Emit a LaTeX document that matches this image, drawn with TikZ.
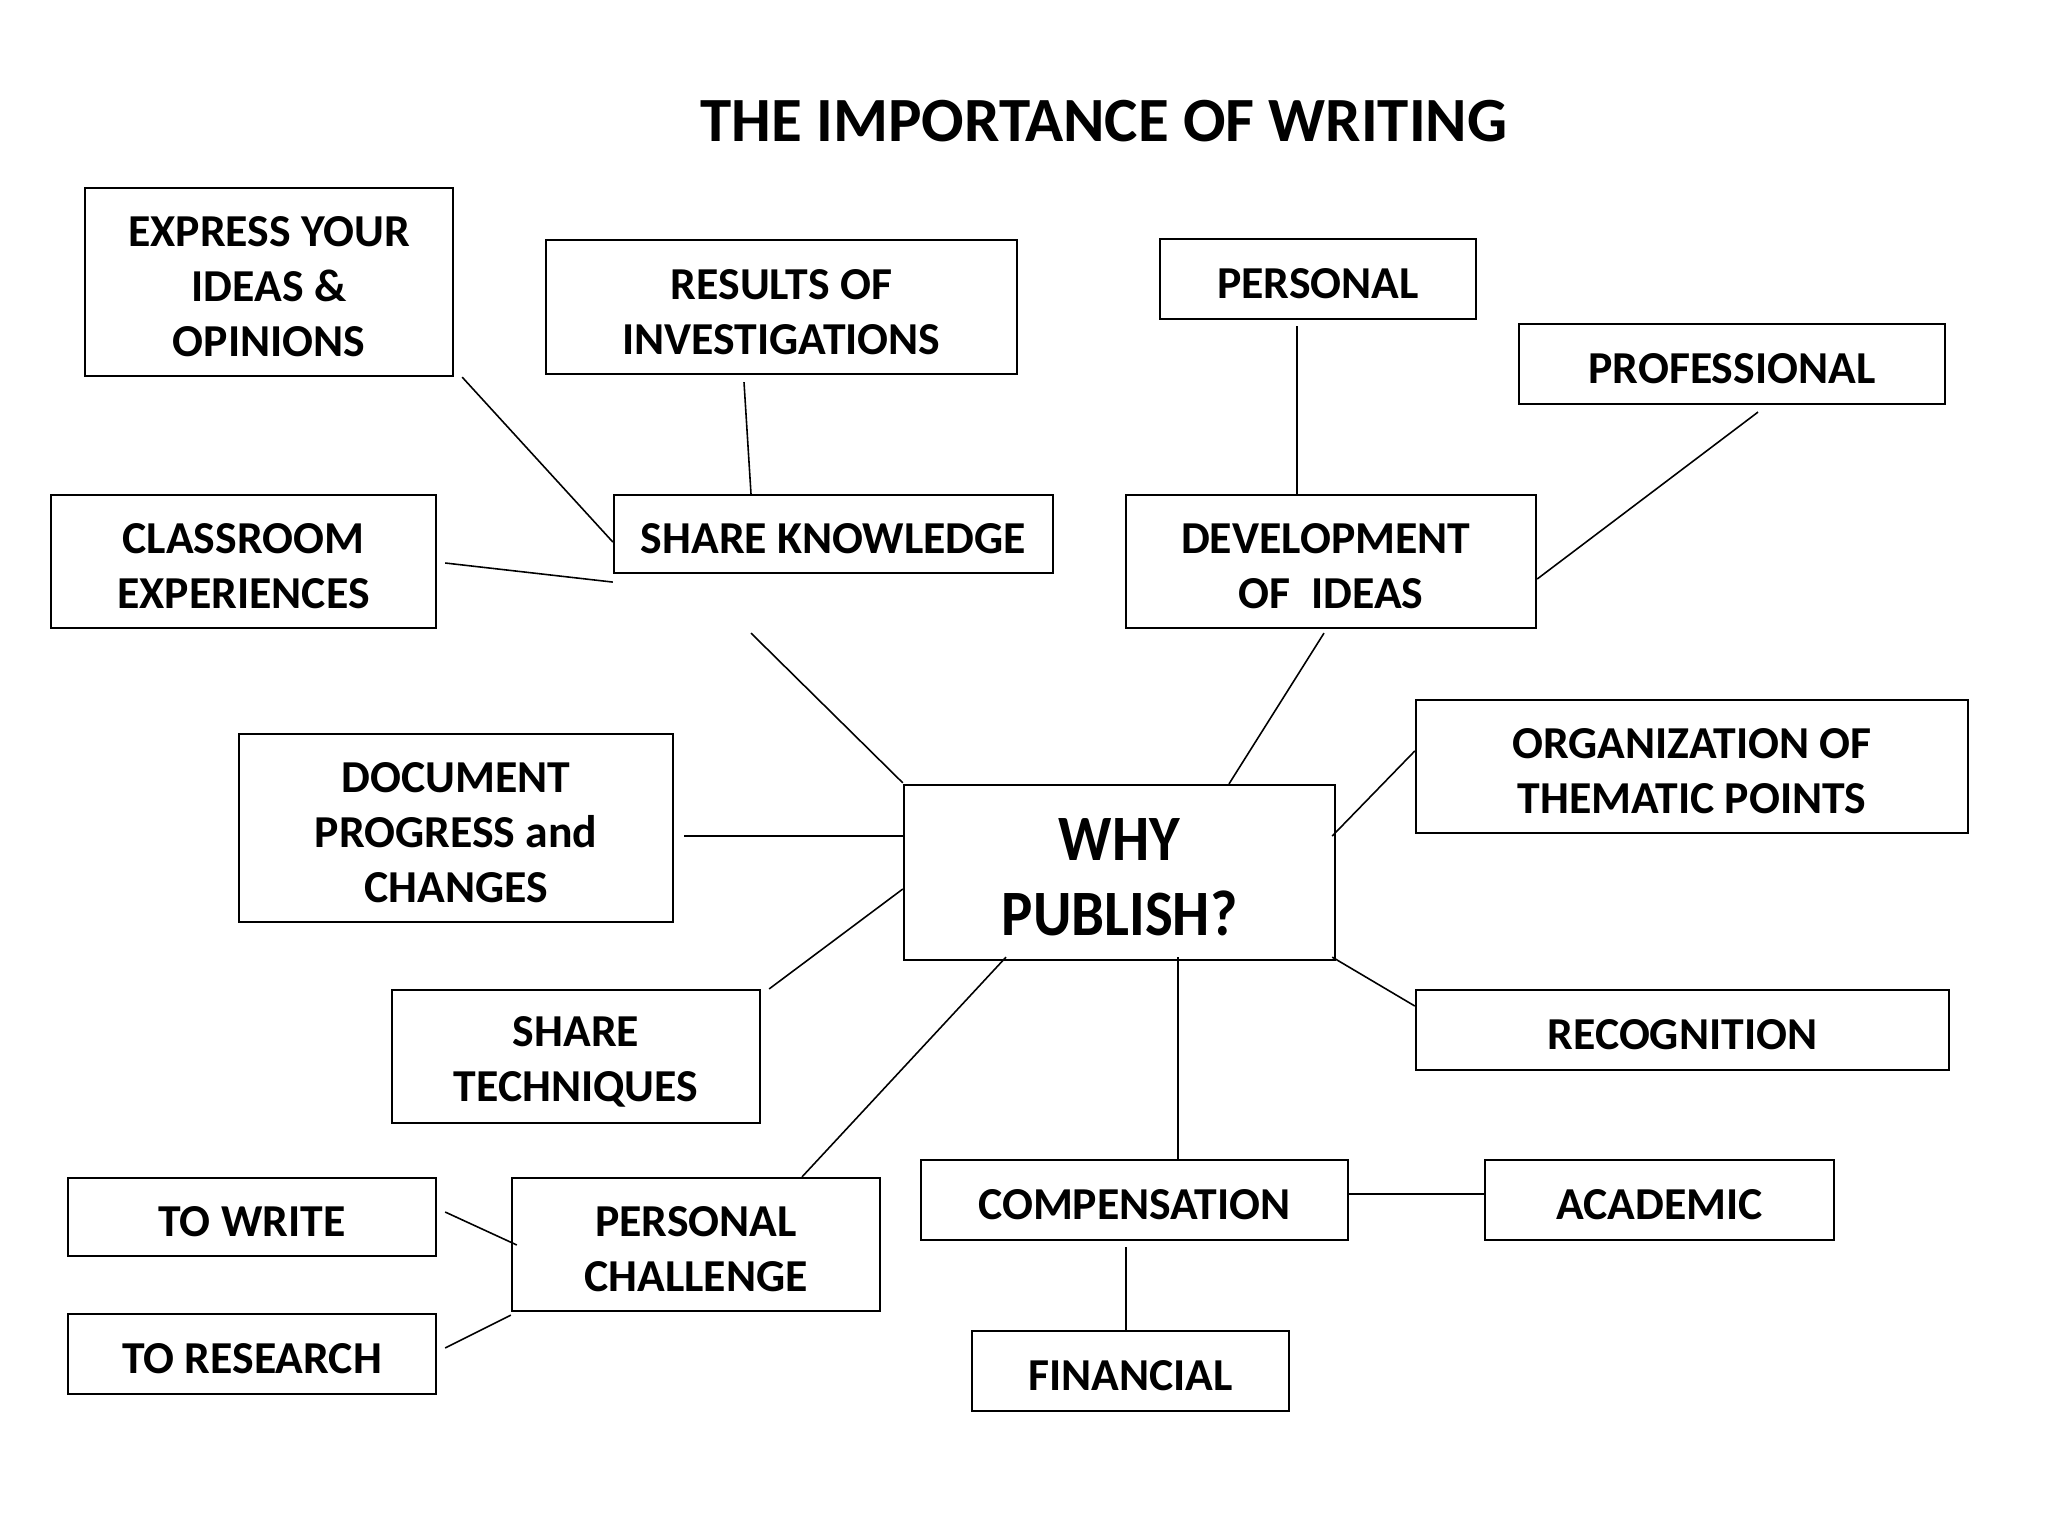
\documentclass[tikz,border=0pt]{standalone}
\usepackage{fontspec}
\setmainfont{Carlito}
\newfontfamily\whyfont{Carlito}[FakeStretch=0.91]
\begin{document}
\begin{tikzpicture}[x=0.01cm,y=0.01cm,
  box/.style={draw=black, line width=0.6pt, inner sep=0pt},
  txt/.style={inner sep=0pt, align=center,
    font=\bfseries\fontsize{13}{15.6}\selectfont},
  whytxt/.style={inner sep=0pt, align=center,
    font=\whyfont\bfseries\fontsize{18.4}{21.3}\selectfont},
  link/.style={draw=black, line width=0.45pt}]
\useasboundingbox (0,0) rectangle (2048,-1536);
\newcommand\boxnode[7][txt]{%
  \node[box, minimum width=#5cm, minimum height=#6cm] (#2) at (#3,#4) {};
  \node[#1] (#2-t) at ([shift={(0,-5)}]#2.center) {#7};}
\node[font=\bfseries\fontsize{17.9}{20}\selectfont, inner sep=0pt] (title) at (1104,-121) {THE IMPORTANCE OF WRITING};
\boxnode{express}{269}{-282}{3.68}{1.88}{EXPRESS YOUR\\IDEAS \&\\OPINIONS}
\boxnode{results}{781.5}{-307}{4.71}{1.34}{RESULTS OF\\INVESTIGATIONS}
\boxnode{personal}{1318}{-279}{3.16}{0.80}{PERSONAL}
\boxnode{professional}{1732}{-364}{4.26}{0.80}{PROFESSIONAL}
\boxnode{classroom}{243.5}{-561.5}{3.85}{1.33}{CLASSROOM\\EXPERIENCES}
\boxnode{shareknow}{833.5}{-534}{4.39}{0.78}{SHARE KNOWLEDGE}
\boxnode{development}{1331}{-561.5}{4.10}{1.33}{DEVELOPMENT\hspace*{3pt}\\OF~~IDEAS}
\boxnode{organization}{1692}{-766.5}{5.52}{1.33}{ORGANIZATION OF\\THEMATIC POINTS}
\boxnode{document}{456}{-828}{4.34}{1.88}{DOCUMENT\\PROGRESS and\\CHANGES}
\boxnode[whytxt]{why}{1119.5}{-872.5}{4.31}{1.75}{WHY\\PUBLISH?}
\boxnode{sharetech}{576}{-1056.5}{3.68}{1.33}{SHARE\\TECHNIQUES}
\boxnode{recognition}{1682.5}{-1030}{5.33}{0.80}{RECOGNITION}
\boxnode{towrite}{252}{-1217}{3.68}{0.78}{TO WRITE}
\boxnode{challenge}{696}{-1244.5}{3.68}{1.33}{PERSONAL\\CHALLENGE}
\boxnode{compensation}{1134.5}{-1200}{4.27}{0.80}{COMPENSATION}
\boxnode{academic}{1659.5}{-1200}{3.49}{0.80}{ACADEMIC}
\boxnode{toresearch}{252}{-1354}{3.68}{0.80}{TO RESEARCH}
\boxnode{financial}{1130.5}{-1371}{3.17}{0.80}{FINANCIAL}
% connectors
\draw[link] ([shift={(8,0)}]express.south east) -- ([shift={(0,-8)}]shareknow.west);
\draw[link] ([shift={(-37.5,-7)}]results.south) -- ([shift={(-82.5,0)}]shareknow.north);
\draw[link] ([shift={(8,-1.5)}]classroom.east) -- ([shift={(0,-8)}]shareknow.south west);
\draw[link] ([shift={(-21,-6)}]personal.south) -- ([shift={(-34,0)}]development.north);
\draw[link] ([shift={(26,-7)}]professional.south) -- ([shift={(0,-17.5)}]development.east);
\draw[link] ([shift={(-82.5,-59)}]shareknow.south) -- ([shift={(0,1)}]why.north west);
\draw[link] ([shift={(-7,-4)}]development.south) -- ([shift={(109.5,0)}]why.north);
\draw[link] ([shift={(0,15.5)}]organization.west) -- ([shift={(-4,36.5)}]why.east);
\draw[link] ([shift={(10,-8)}]document.east) -- ([shift={(0,36.5)}]why.west);
\draw[link] ([shift={(0,-16.5)}]why.west) -- ([shift={(8,0)}]sharetech.north east);
\draw[link] ([shift={(-4,4)}]why.south east) -- ([shift={(0,24)}]recognition.west);
\draw[link] ([shift={(58.5,4)}]why.south) -- ([shift={(43.5,0)}]compensation.north);
\draw[link] ([shift={(-113.5,4)}]why.south) -- ([shift={(106,0)}]challenge.north);
\draw[link] ([shift={(8,5)}]towrite.east) -- ([shift={(6,-0.5)}]challenge.west);
\draw[link] ([shift={(8,6)}]toresearch.east) -- ([shift={(0,-3)}]challenge.south west);
\draw[link] ([shift={(0,6)}]compensation.east) -- ([shift={(0,6)}]academic.west);
\draw[link] ([shift={(-8.5,-6)}]compensation.south) -- ([shift={(-4.5,0)}]financial.north);
\end{tikzpicture}
\end{document}
